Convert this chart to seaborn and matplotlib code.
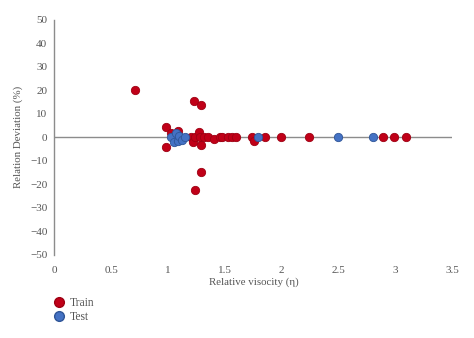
import matplotlib
matplotlib.use("Agg")
import matplotlib.pyplot as plt
import seaborn as sns
import pandas as pd

# Relative viscosity vs. relation deviation
train_x = [0.71, 0.985, 0.985, 1.03, 1.085, 1.20, 1.22, 1.23, 1.235, 1.24, 1.27,
           1.28, 1.29, 1.29, 1.29, 1.32, 1.35, 1.40, 1.46, 1.47, 1.53, 1.56, 1.60,
           1.74, 1.76, 1.85, 1.99, 2.24, 2.89, 2.99, 3.09]
train_y = [20, 4.4, -4.3, 1.7, 2.8, 0, -2.1, 15.6, -22.4, 0, 2.1,
           0, 13.7, -14.9, -3.4, 0, 0, -0.6, 0, 0, 0, 0, 0,
           0, -1.5, 0, 0, 0, 0, 0, 0]
test_x = [1.03, 1.05, 1.07, 1.09, 1.10, 1.12, 1.15, 1.79, 2.49, 2.80]
test_y = [0, -2.0, 1.8, -1.5, 0.8, -1.2, 0.3, 0, 0.2, 0]

x_ticks = [0, 0.5, 1, 1.5, 2, 2.5, 3, 3.5]
x_tick_labels = ["0", "0.5", "1", "1.5", "2", "2.5", "3", "3.5"]
y_ticks = [50, 40, 30, 20, 10, 0, -10, -20, -30, -40, -50]

df = pd.DataFrame({
    "eta": train_x + test_x,
    "dev": train_y + test_y,
    "set": ["Train"] * len(train_x) + ["Test"] * len(test_x),
})

sns.set_style("white")
plt.rcParams["font.family"] = ["Liberation Serif", "DejaVu Serif"]

grey = "#555555"
fig = plt.figure(figsize=(4.74, 3.38), dpi=100)
ax = fig.add_axes([0.1145, 0.246, 0.84, 0.695])

palette = {"Train": "#C00018", "Test": "#4472C4"}
edges = {"Train": "#9E0012", "Test": "#2F5597"}
for name in ["Train", "Test"]:
    sub = df[df["set"] == name]
    sns.scatterplot(data=sub, x="eta", y="dev", color=palette[name],
                    edgecolor=edges[name], linewidth=0.6, s=36, ax=ax,
                    label=name, zorder=3, legend=False)

ax.axhline(0, color="#8C8C8C", lw=1.0, zorder=1)
ax.set_xlim(0, 3.5)
ax.set_ylim(-50, 50)
ax.set_xticks(x_ticks)
ax.set_xticklabels(x_tick_labels)
ax.set_yticks(y_ticks)
ax.set_yticklabels([str(v).replace("-", "\u2212") for v in y_ticks])
ax.tick_params(axis="both", length=0, labelsize=8, colors=grey)
ax.tick_params(axis="x", pad=8)
ax.tick_params(axis="y", pad=5)

for side in ["top", "right", "bottom"]:
    ax.spines[side].set_visible(False)
ax.spines["left"].set_color("#8C8C8C")
ax.spines["left"].set_linewidth(1.0)

ax.set_xlabel("Relative visocity (η)", fontsize=7.8, color=grey, labelpad=2)
ax.set_ylabel("Relation Deviation (%)", fontsize=7.8, color=grey, labelpad=5)

handles = [
    plt.Line2D([], [], marker="o", ls="", color=palette[n],
               markeredgecolor=edges[n], markersize=7, label=n)
    for n in ["Train", "Test"]
]
fig.legend(handles=handles, loc="lower left", bbox_to_anchor=(0.1, 0.03),
           frameon=False, fontsize=8.3, labelcolor=grey, handletextpad=0.3,
           borderaxespad=0, labelspacing=0.2, handlelength=1.2)

fig.savefig("out.png", dpi=100)
